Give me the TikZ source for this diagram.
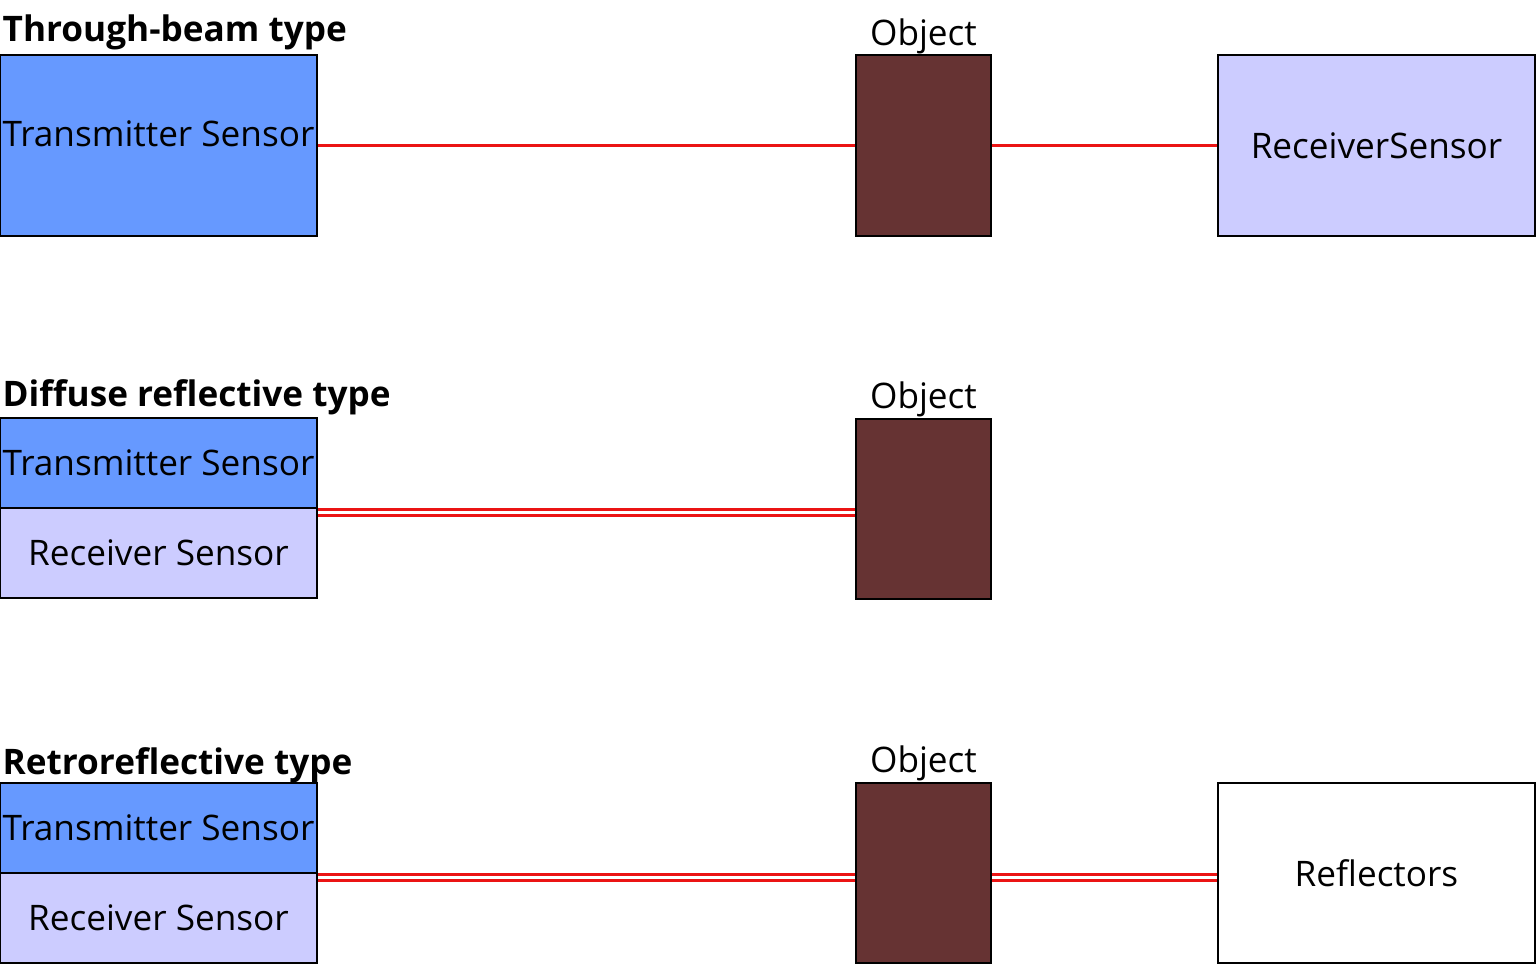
\documentclass[tikz,border=0pt]{standalone}
\usepackage{fontspec}
\setmainfont{Open Sans}
\usepackage{tikz}
\usetikzlibrary{positioning}
\definecolor{txblue}{RGB}{102,153,255}
\definecolor{rxlilac}{RGB}{204,204,255}
\definecolor{objbrown}{RGB}{102,51,51}
\definecolor{beamred}{RGB}{235,20,20}
\tikzset{
  box/.style={draw, line width=0.02cm, inner sep=0pt, align=center,
              minimum width=3.17cm, font=\fontsize{10}{12}\selectfont},
  tx/.style={box, fill=txblue},
  rx/.style={box, fill=rxlilac},
  obj/.style={draw, line width=0.02cm, fill=objbrown, minimum width=1.35cm,
              minimum height=1.8cm, inner sep=0pt},
  ttl/.style={anchor=base west, inner sep=0pt, font=\fontsize{10}{12}\selectfont\bfseries},
  objlbl/.style={inner sep=0pt, font=\fontsize{10}{12}\selectfont},
  beam/.style={draw=beamred, line width=0.03cm},
  dbeam/.style={draw=beamred, line width=0.03cm, double=white, double distance=0.022cm}
}
\begin{document}
\begin{tikzpicture}[x=0.01cm, y=-0.01cm]
  \useasboundingbox[fill=white] (0,0) rectangle (1536,965);
  % through-beam
  \node[ttl] (t1) at (2,42) {Through-beam type};
  \node[tx, minimum height=1.81cm, text depth=7pt] (tx1) at (158.5,145.5) {Transmitter Sensor};
  \node[obj] (obj1) at (923.5,145.5) {};
  \node[rx, minimum height=1.81cm] (rx1) at (1376.5,145.5) {ReceiverSensor};
  \node[objlbl, above=0pt of obj1] (o1) {Object};
  \draw[beam] (tx1) -- (obj1);
  \draw[beam] (obj1) -- (rx1);
  % diffuse reflective
  \node[ttl] (t2) at (2,407) {Diffuse reflective type};
  \node[tx, minimum height=0.9cm] (tx2) at (158.5,463) {Transmitter Sensor};
  \node[rx, minimum height=0.9cm, below=-0.02cm of tx2] (rx2) {Receiver Sensor};
  \node[obj] (obj2) at (923.5,509) {};
  \node[objlbl, above=0pt of obj2] (o2) {Object};
  \draw[dbeam] ([yshift=-1pt]tx2.south east) -- ([yshift=-1pt]obj2.west |- tx2.south east);
  % retroreflective
  \node[ttl] (t3) at (2,775) {Retroreflective type};
  \node[tx, minimum height=0.9cm] (tx3) at (158.5,828) {Transmitter Sensor};
  \node[rx, minimum height=0.9cm, below=-0.02cm of tx3] (rx3) {Receiver Sensor};
  \node[obj] (obj3) at (923.5,873) {};
  \node[objlbl, above=0pt of obj3] (o3) {Object};
  \node[box, fill=white, minimum height=1.8cm] (refl) at (1376.5,873) {Reflectors};
  \draw[dbeam] ([yshift=-1pt]tx3.south east) -- ([yshift=-1pt]obj3.west |- tx3.south east);
  \draw[dbeam] ([yshift=-1pt]obj3.east |- tx3.south east) -- ([yshift=-1pt]refl.west |- tx3.south east);
\end{tikzpicture}
\end{document}
